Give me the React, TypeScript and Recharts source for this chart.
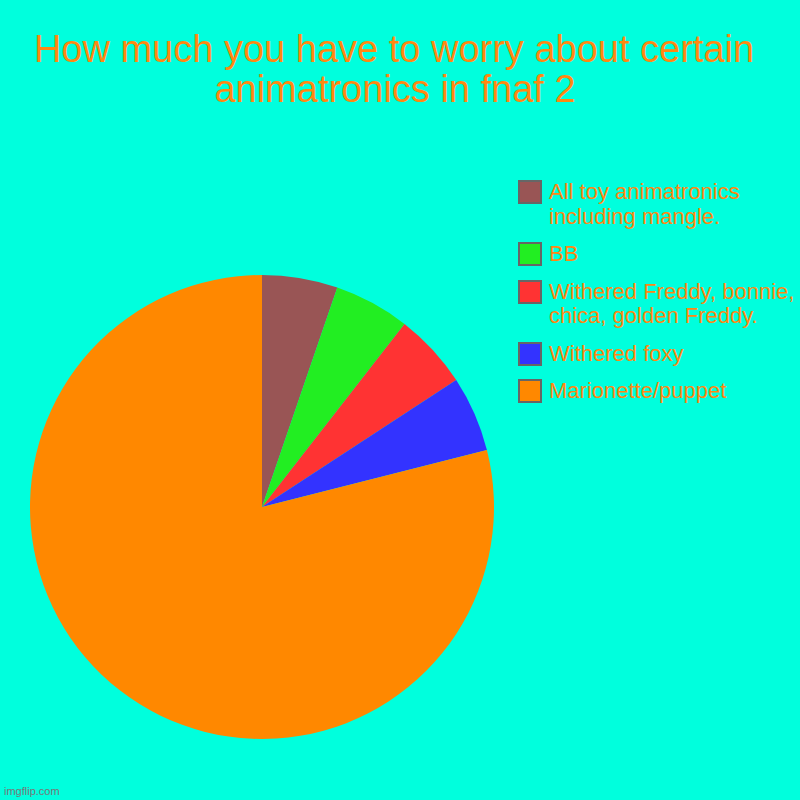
import React from 'react'
import { PieChart, Pie, Cell, Legend } from 'recharts'

document.body.style.margin = '0'

const names = [
  'All toy animatronics including mangle.',
  'BB',
  'Withered Freddy, bonnie, chica, golden Freddy.',
  'Withered foxy',
  'Marionette/puppet',
]
const values = [1, 1, 1, 1, 15]
const colors = ['#995555', '#22ee22', '#ff3333', '#3333ff', '#ff8800']

const data = names.map((name, i) => ({ name, value: values[i] }))

const TEXT = '#ff8811'
const FONT = '"Liberation Sans", Arial, sans-serif'

const LegendBox = () => (
  <div style={{ width: 282, fontFamily: FONT }}>
    {data.map((d, i) => (
      <div key={d.name} style={{ display: 'flex', alignItems: 'flex-start', marginBottom: 13 }}>
        <div
          style={{
            width: 20,
            height: 20,
            border: '2px solid #666666',
            background: colors[i],
            flexShrink: 0,
          }}
        />
        <div style={{ marginLeft: 7, color: TEXT, fontSize: 22, lineHeight: '24.5px', width: 255 }}>
          {d.name}
        </div>
      </div>
    ))}
  </div>
)

const App = () => {
  return (
    <div style={{ position: 'relative', width: 800, height: 800, background: '#00ffdd', overflow: 'hidden' }}>
      <PieChart width={800} height={800} margin={{ top: 0, right: 0, bottom: 0, left: 0 }}>
        <Pie
          data={data}
          dataKey="value"
          nameKey="name"
          cx={262}
          cy={507}
          outerRadius={232}
          startAngle={90}
          endAngle={-270}
          stroke="none"
          isAnimationActive={false}
        >
          {data.map((d, i) => (
            <Cell key={d.name} fill={colors[i]} />
          ))}
        </Pie>
        <Legend
          content={<LegendBox />}
          wrapperStyle={{ position: 'absolute', top: 180, left: 518, width: 282 }}
        />
      </PieChart>
      <svg width={800} height={800} style={{ position: 'absolute', left: 0, top: 0, pointerEvents: 'none' }}>
        <text x={394} y={62} textAnchor="middle" fontFamily={FONT} fontSize={38} fill={TEXT}>
          How much you have to worry about certain
        </text>
        <text x={395} y={102} textAnchor="middle" fontFamily={FONT} fontSize={38} fill={TEXT}>
          animatronics in fnaf 2
        </text>
        <text x={4} y={795} fontFamily={FONT} fontSize={11} fill="#777777">
          imgflip.com
        </text>
      </svg>
    </div>
  )
}

export default App
